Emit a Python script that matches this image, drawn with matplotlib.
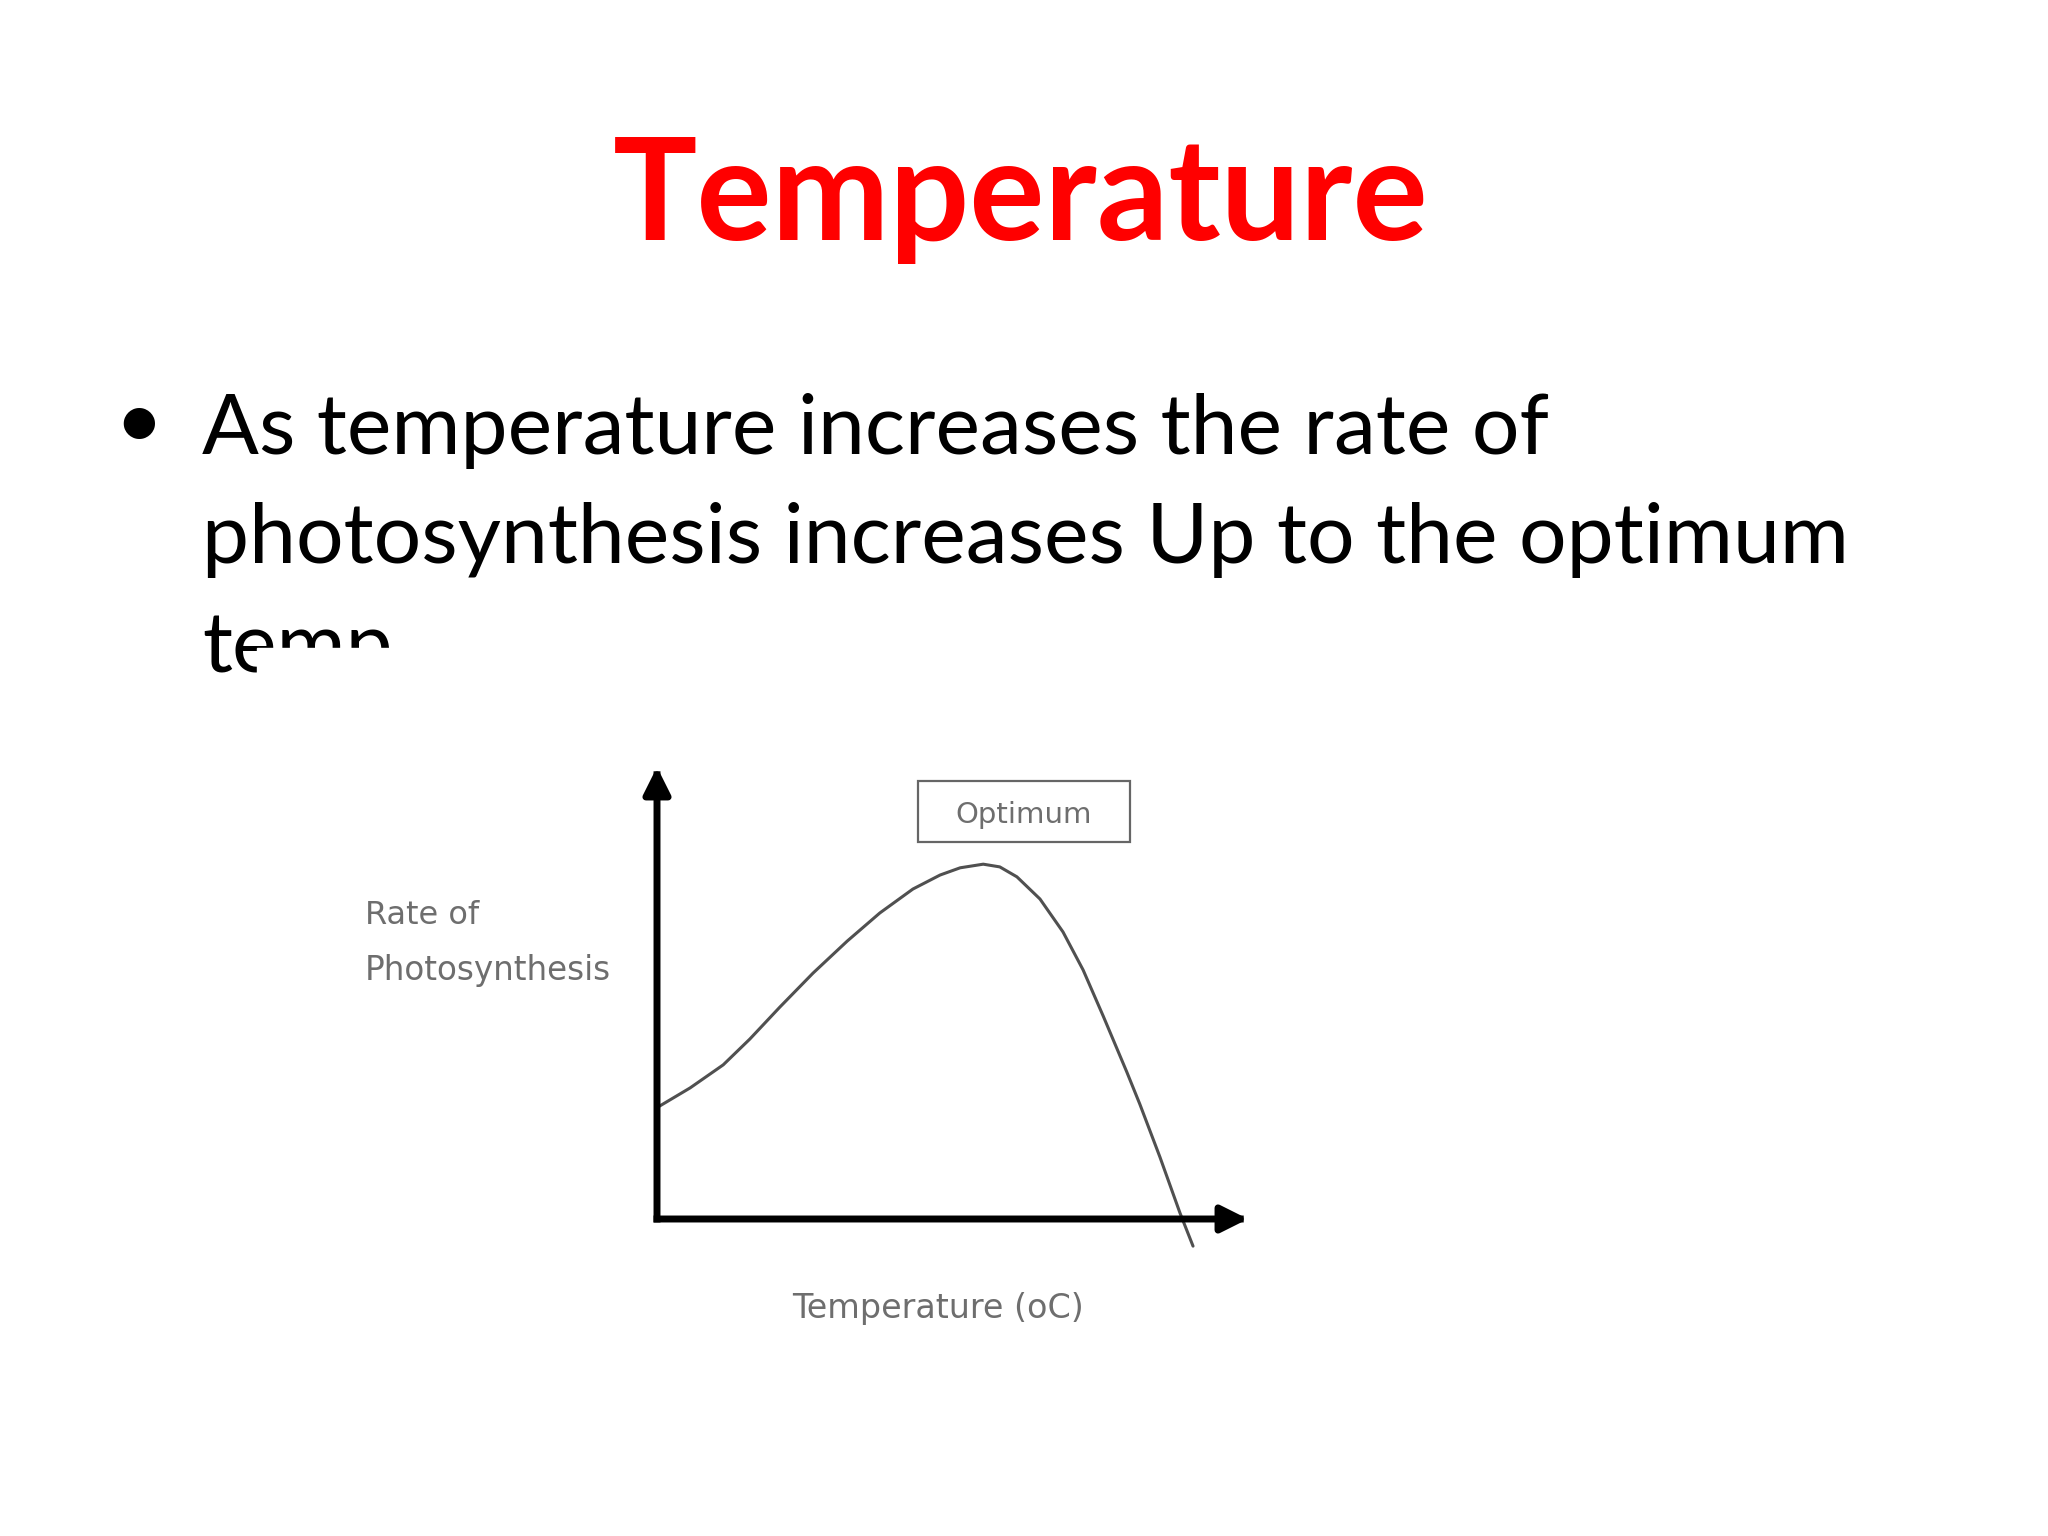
import matplotlib.pyplot as plt
from matplotlib.patches import Rectangle

# slide text
title_text = 'Temperature'
bullet_lines = ['As temperature increases the rate of',
                'photosynthesis increases Up to the optimum',
                'temp']

# sketch graph: rate of photosynthesis against temperature (arbitrary 0-100 units)
temp = [0.2, 5.6, 11.2, 15.7, 20.8, 26.4, 32.2, 37.7, 43.3, 47.9, 51.3, 55.2,
        58.0, 60.9, 64.8, 68.7, 72.1, 75.5, 79.5, 81.7, 85.1, 88.5, 90.7]
rate = [24.8, 29.0, 34.1, 39.8, 46.9, 54.4, 61.5, 67.7, 73.0, 76.1, 77.7, 78.5,
        77.9, 75.7, 70.8, 63.5, 55.1, 44.9, 32.5, 25.4, 13.7, 1.3, -6.0]
y_label_lines = ['Rate of', 'Photosynthesis']
x_label = 'Temperature (oC)'
box_label = 'Optimum'
box_x = [44.2, 80.0]
box_y = [83.4, 96.9]

W, H = 2048, 1536
fig = plt.figure(figsize=(W / 100, H / 100), dpi=100)
fig.patch.set_facecolor('white')


def px(x, y):
    return x / W, 1 - y / H


def fit_width(t, target):
    r = fig.canvas.get_renderer()
    w = t.get_window_extent(r).width
    t.set_fontsize(t.get_fontsize() * target / w)


title = fig.text(*px(1021, 240), title_text, color='#ff0000', family='Lato',
                 weight='bold', fontsize=100, ha='center', va='baseline')
fit_width(title, 815)

lines = []
for i, s in enumerate(bullet_lines):
    lines.append(fig.text(*px(202, 454 + 109 * i), s, family='Lato', fontsize=60,
                          color='black', ha='left', va='baseline'))
fit_width(lines[1], 1650)
for t in lines:
    t.set_fontsize(lines[1].get_fontsize())
fig.text(*px(139, 448), '\u2022', family='Lato', fontsize=lines[1].get_fontsize(),
         ha='center', va='baseline')

# the picture's white background hides the bottom of the text
fig.patches.append(Rectangle((257 / W, 0), 1 - 257 / W, 1 - 648 / H,
                             transform=fig.transFigure, color='white', zorder=4))

ax = fig.add_axes([657 / W, 1 - 1219 / H, (1248 - 657) / W, (1219 - 767) / H])
ax.set_zorder(5)
ax.set_xlim(0, 100)
ax.set_ylim(0, 100)
ax.axis('off')

grey = '#6e6e6e'
ax.plot(temp, rate, color='#505050', lw=2.2, clip_on=False, zorder=3,
        solid_joinstyle='round', solid_capstyle='round')

arrow = dict(arrowstyle='-|>,head_length=0.8,head_width=0.4', mutation_scale=20,
             lw=5, color='black', shrinkA=0, shrinkB=0, capstyle='projecting')
ax.annotate('', xy=(100, 0), xytext=(0, 0), arrowprops=arrow, annotation_clip=False)
ax.annotate('', xy=(0, 100), xytext=(0, 0), arrowprops=arrow, annotation_clip=False)

ax.add_patch(Rectangle((box_x[0], box_y[0]), box_x[1] - box_x[0], box_y[1] - box_y[0],
                       fill=False, ec='#666666', lw=1.6, clip_on=False))
ax.text(sum(box_x) / 2, 87.6, box_label, fontsize=21, color=grey, ha='center', va='baseline')

ax.text(-49.4, 65.3, y_label_lines[0], fontsize=23, color=grey, va='baseline', clip_on=False)
ax.text(-49.4, 52.9, y_label_lines[1], fontsize=23.5, color=grey, va='baseline', clip_on=False)
ax.text(47.5, -21.9, x_label, fontsize=24, color=grey, ha='center', va='baseline')

fig.savefig('out.png', dpi=100, facecolor='white')
